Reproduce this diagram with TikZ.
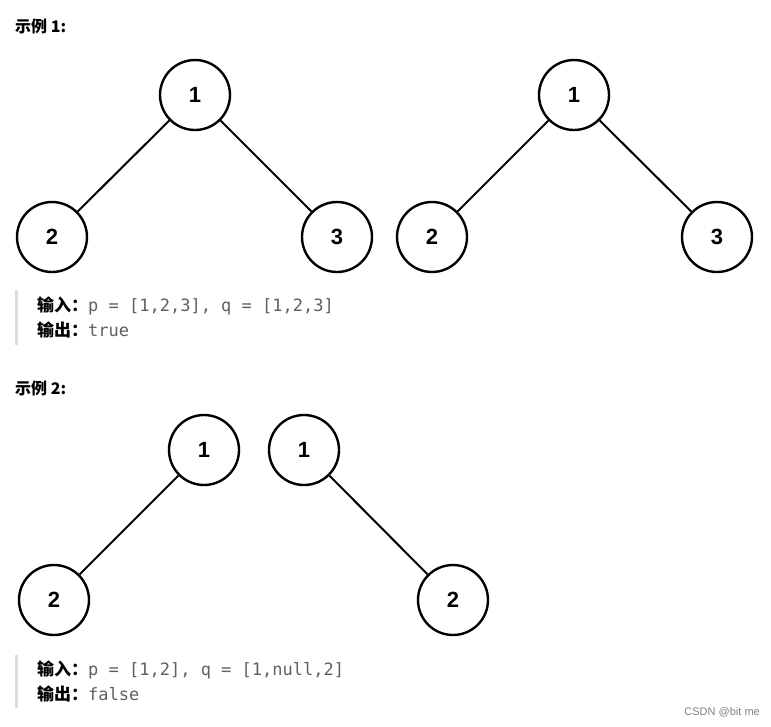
\documentclass[tikz,border=0pt]{standalone}
\usepackage{fontspec}
\setmainfont{Liberation Sans}
\newfontfamily\cjk{Noto Sans CJK SC}
\setmonofont{DejaVu Sans Mono}
\usetikzlibrary{positioning}
\definecolor{codegray}{RGB}{95,95,95}
\definecolor{bargray}{RGB}{221,221,221}
\tikzset{
  treenode/.style={circle, draw=black, line width=2.4pt, minimum size=70pt, inner sep=0pt, font=\fontsize{22}{22}\selectfont\bfseries},
  treeedge/.style={line width=2pt},
  heading/.style={anchor=west, inner sep=0pt, font=\cjk\fontsize{16}{17}\selectfont\bfseries},
  codeline/.style={anchor=west, inner sep=0pt, font=\fontsize{17}{18}\selectfont}
}
\newcommand{\lbl}[1]{{\cjk\bfseries #1：}}
\begin{document}
\begin{tikzpicture}[x=1pt,y=-1pt]
\useasboundingbox (0,0) rectangle (771,726);
% example 1
\node[heading] (h1) at (15,26) {示例 1:};
\node[treenode] (a1) at (195,95) {1};
\node[treenode] (a2) at (52,237) {2};
\node[treenode] (a3) at (337,237) {3};
\draw[treeedge] (a1) -- (a2);
\draw[treeedge] (a1) -- (a3);
\node[treenode] (b1) at (574,95) {1};
\node[treenode] (b2) at (432,237) {2};
\node[treenode] (b3) at (717,237) {3};
\draw[treeedge] (b1) -- (b2);
\draw[treeedge] (b1) -- (b3);
\fill[bargray] (15,290) rectangle (18,345);
\node[codeline] (in1) at (37,306) {\lbl{输入}\textcolor{codegray}{\ttfamily p = [1,2,3], q = [1,2,3]}};
\node[codeline] (out1) at (37,330) {\lbl{输出}\textcolor{codegray}{\ttfamily true}};
% example 2
\node[heading] (h2) at (15,388) {示例 2:};
\node[treenode] (c1) at (204,450) {1};
\node[treenode] (c2) at (54,600) {2};
\draw[treeedge] (c1) -- (c2);
\node[treenode] (d1) at (304,450) {1};
\node[treenode] (d2) at (453,600) {2};
\draw[treeedge] (d1) -- (d2);
\fill[bargray] (15,655) rectangle (18,708);
\node[codeline] (in2) at (37,670) {\lbl{输入}\textcolor{codegray}{\ttfamily p = [1,2], q = [1,null,2]}};
\node[codeline] (out2) at (37,694) {\lbl{输出}\textcolor{codegray}{\ttfamily false}};
\node[anchor=east, inner sep=0pt, text=gray, font=\fontsize{11}{12}\selectfont] (mark) at (760,712) {CSDN @bit me};
\end{tikzpicture}
\end{document}
